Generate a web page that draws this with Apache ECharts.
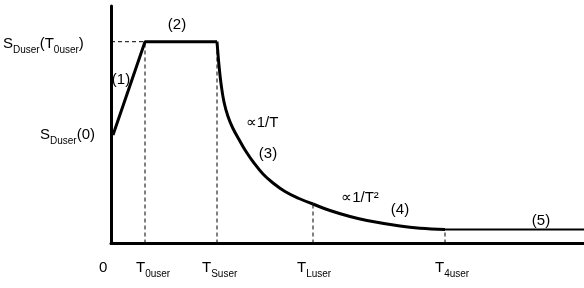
<!DOCTYPE html>
<html><head><meta charset="utf-8">
<script src="https://cdn.jsdelivr.net/npm/echarts@6/dist/echarts.min.js"></script>
<style>html,body{margin:0;padding:0;background:#fff}#c{width:584px;height:288px}</style>
</head><body><div id="c"></div>
<script>
// Rise + plateau (branches 1 and 2)
const riseT = [2, 34, 106];
const riseS = [108.5, 201.8, 201.8];
// Branch 3 (∝1/T)
const branch3T = [106, 108, 110, 113, 117, 122, 128, 135, 143, 152, 162, 174, 188, 202];
const branch3S = [201.8, 178, 160, 141.5, 127, 115, 104, 92, 80.5, 69.5, 60.5, 52, 45, 39.5];
// Branch 4 (∝1/T²)
const branch4T = [202, 219, 239, 256, 289, 309, 334];
const branch4S = [39.5, 33, 27, 23, 17.5, 15.3, 14];
// Branch 5 (constant tail)
const branch5T = [334, 473];
const branch5S = [14, 14];
// Corner periods
const cornerT = [34, 106, 202, 334];
const cornerS = [201.8, 201.8, 39.5, 14];
// Tick labels under the axis (main letter, subscript) and their left-edge periods
const tickMain = ['0', 'T', 'T', 'T', 'T'];
const tickSub = ['', '0user', 'Suser', 'Luser', '4user'];
const tickAt = [-12, 25, 91, 186, 324];
// Annotations
const noteText = ['(1)', '(2)', '∝1/T', '(3)', '∝1/T²', '(4)', '(5)'];
const noteT = [10, 66, 151, 157, 249, 289, 430];
const noteS = [163.5, 219, 120.5, 89.5, 45.5, 33.5, 22.5];

const FONT = 'Liberation Sans';
const rich = {
  m: {fontSize: 15, fontFamily: FONT, color: '#000', lineHeight: 22, verticalAlign: 'middle'},
  s: {fontSize: 10, fontFamily: FONT, color: '#000', lineHeight: 22, verticalAlign: 'bottom'}
};

const chart = echarts.init(document.getElementById('c'), null, {renderer: 'canvas'});
const zip = (a, b) => a.map((v, i) => [v, b[i]]);
const black = '#000';
const dashSeries = [];
cornerT.forEach((t, i) => {
  dashSeries.push({type: 'line', data: [[t, 0], [t, cornerS[i]]], symbol: 'none', silent: true,
    lineStyle: {color: black, width: 1, type: [4, 3]}, z: 1});
});
dashSeries.push({type: 'line', data: [[0, cornerS[0]], [cornerT[0], cornerS[0]]], symbol: 'none', silent: true,
  lineStyle: {color: black, width: 1, type: [4, 3]}, z: 1});

chart.setOption({
  animation: false,
  backgroundColor: '#fff',
  grid: {left: 111, right: 0, top: 6, bottom: 44.5},
  xAxis: {type: 'value', min: 0, max: 473, axisLine: {show: true, onZero: false, lineStyle: {color: black, width: 3}},
    axisTick: {show: false}, axisLabel: {show: false}, splitLine: {show: false}},
  yAxis: {type: 'value', min: 0, max: 237.5, axisLine: {show: true, lineStyle: {color: black, width: 3}},
    axisTick: {show: false}, axisLabel: {show: false}, splitLine: {show: false}},
  series: dashSeries.concat([
    {type: 'line', data: zip(riseT, riseS), symbol: 'none', lineStyle: {color: black, width: 3}, z: 3},
    {type: 'line', data: zip(branch3T, branch3S), symbol: 'none', smooth: 0.4, lineStyle: {color: black, width: 3, join: 'round'}, z: 3},
    {type: 'line', data: zip(branch4T, branch4S), symbol: 'none', smooth: 0.4, lineStyle: {color: black, width: 3, join: 'round'}, z: 3},
    {type: 'line', data: zip(branch5T, branch5S), symbol: 'none', lineStyle: {color: black, width: 2}, z: 3}
  ])
});

const px = (t, s) => chart.convertToPixel({gridIndex: 0}, [t, s]);
const graphics = [];
tickMain.forEach((m, i) => {
  const p = px(tickAt[i], -24.5);
  graphics.push({type: 'text', x: p[0], y: p[1], style: {
    text: '{m|' + m + '}' + (tickSub[i] ? '{s|' + tickSub[i] + '}' : ''), rich: rich,
    textAlign: 'left', textVerticalAlign: 'middle'}});
});
const l1 = px(-108, 199.5);
graphics.push({type: 'text', x: l1[0], y: l1[1], style: {
  text: '{m|S}{s|Duser}{m|(T}{s|0user}{m|)}', rich: rich, textAlign: 'left', textVerticalAlign: 'middle'}});
const l2 = px(-71, 108.5);
graphics.push({type: 'text', x: l2[0], y: l2[1], style: {
  text: '{m|S}{s|Duser}{m|(0)}', rich: rich, textAlign: 'left', textVerticalAlign: 'middle'}});
noteText.forEach((t, i) => {
  const p = px(noteT[i], noteS[i]);
  graphics.push({type: 'text', x: p[0], y: p[1], style: {
    text: t, font: '15px "' + FONT + '"', fill: '#000', textAlign: 'center', textVerticalAlign: 'middle'}});
});
chart.setOption({graphic: graphics});
</script></body></html>
